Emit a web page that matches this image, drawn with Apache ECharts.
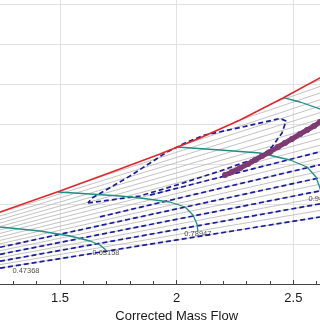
<!DOCTYPE html>
<html>
<head>
<meta charset="utf-8">
<script src="https://cdn.jsdelivr.net/npm/echarts@6/dist/echarts.min.js"></script>
<style>
  html, body { margin: 0; padding: 0; background: #fff; }
  #chart { width: 320px; height: 320px; }
</style>
</head>
<body>
<div id="chart"></div>
<script>
// surge line (red)
const surgeX = [1.157, 1.243, 1.500, 1.757, 1.929, 2.100, 2.272, 2.456, 2.614, 2.657]
const surgeY = [1.8125, 1.900, 2.163, 2.438, 2.625, 2.825, 3.050, 3.325, 3.575, 3.65]

// beta lines (thin grey), start point and end point
const betaStartX = [2.567, 2.4215, 2.246, 2.014, 1.620, 1.243, 1.243, 1.243, 1.243, 1.243, 1.243,
  1.243, 1.243, 1.243, 1.243, 1.243, 1.243, 1.243, 1.243, 1.243, 1.243, 1.243]
const betaStartY = [3.50, 3.2725, 3.025, 2.725, 2.29, 1.8925, 1.85, 1.805, 1.7625, 1.719, 1.676,
  1.6325, 1.589, 1.545, 1.5025, 1.459, 1.416, 1.371, 1.329, 1.285, 1.2425, 1.1975]
const betaEndX = 2.657
const betaEndY = [3.595, 3.5125, 3.43, 3.346, 3.264, 3.181, 3.099, 3.015, 2.9325, 2.85, 2.7675,
  2.685, 2.6025, 2.52, 2.4375, 2.355, 2.2725, 2.189, 2.106, 2.024, 1.941, 1.8575]

// efficiency contours (blue dashed), open ones
const effStartX = [1.8858, 1.6715, 1.243, 1.243, 1.243, 1.243]
const effStartY = [2.111, 1.84, 1.459, 1.371, 1.285, 1.1975]
const effEndX = 2.657
const effEndY = [2.685, 2.52, 2.355, 2.189, 2.024, 1.8575]

// efficiency island (closed)
const islandX = [1.620, 1.843, 2.014, 2.186, 2.357, 2.4086, 2.4515, 2.4686, 2.443, 2.272, 2.121, 2.036, 1.959, 1.800, 1.637, 1.620]
const islandY = [2.0125, 2.10, 2.25, 2.4125, 2.5875, 2.7125, 2.8875, 3.0375, 3.069, 2.956, 2.8625, 2.7625, 2.65, 2.35, 2.075, 2.0125]

// speed lines (teal)
const speedX = [
  [1.157, 1.243, 1.414, 1.543, 1.629, 1.671, 1.697],
  [1.4915, 1.629, 1.757, 1.843, 1.971, 2.036, 2.070, 2.087, 2.091],
  [2.001, 2.186, 2.357, 2.486, 2.559, 2.597, 2.614, 2.623],
  [2.456, 2.529, 2.614, 2.657],
]
const speedY = [
  [1.75, 1.7125, 1.6625, 1.60, 1.5375, 1.4875, 1.425],
  [2.15, 2.125, 2.10, 2.075, 2.025, 1.9625, 1.8625, 1.75, 1.6625],
  [2.7125, 2.675, 2.6375, 2.55, 2.4625, 2.3375, 2.20, 2.10],
  [3.331, 3.275, 3.1875, 3.1375],
]

// speed labels, placed at line ends
const speedLabels = ['0.47368', '0.63158', '0.78947', '0.94737']
const speedLabelX = [1.354, 1.697, 2.091, 2.623]
const speedLabelY = [1.20, 1.425, 1.6625, 2.10]

// operating line (purple)
const opX = [2.207, 2.237, 2.272, 2.306, 2.336, 2.366, 2.400, 2.434, 2.464, 2.494, 2.529, 2.559, 2.589, 2.614, 2.649]
const opY = [2.3625, 2.40, 2.45, 2.50, 2.55, 2.60, 2.65, 2.7125, 2.7625, 2.8125, 2.875, 2.925, 2.975, 3.025, 3.075]

const font = "'Liberation Sans', Arial, sans-serif"
const zip = (xs, ys) => xs.map((x, i) => [x, ys[i]])

const series = []

betaStartX.forEach((sx, i) => {
  series.push({
    type: 'line', silent: true, symbol: 'none', z: 1,
    data: [[sx, betaStartY[i]], [betaEndX, betaEndY[i]]],
    lineStyle: { color: '#b4b4b4', width: 0.8 },
  })
})

effStartX.forEach((sx, i) => {
  series.push({
    type: 'line', silent: true, symbol: 'none', z: 2,
    data: [[sx, effStartY[i]], [effEndX, effEndY[i]]],
    lineStyle: { color: '#1b1d9e', width: 1.7, type: [5, 3] },
  })
})

series.push({
  type: 'line', silent: true, symbol: 'none', z: 2,
  data: zip(islandX, islandY),
  lineStyle: { color: '#1b1d9e', width: 1.7, type: [5, 3] },
})

speedX.forEach((xs, i) => {
  series.push({
    type: 'line', silent: true, symbol: 'none', z: 3,
    data: zip(xs, speedY[i]),
    lineStyle: { color: '#1f8f86', width: 1.3 },
  })
})

series.push({
  type: 'scatter', silent: true, symbol: 'circle', symbolSize: 1, z: 6,
  data: speedLabelX.map((x, i) => ({ value: [x, speedLabelY[i]], name: speedLabels[i] })),
  itemStyle: { color: 'rgba(0,0,0,0)' },
  label: {
    show: true, formatter: '{b}', position: 'inside', offset: [0, 3],
    fontSize: 7.5, fontFamily: font, color: '#222',
  },
})

series.push({
  type: 'line', silent: true, symbol: 'none', z: 4,
  data: zip(surgeX, surgeY),
  lineStyle: { color: '#e1262b', width: 1.6 },
})

series.push({
  type: 'line', silent: true, symbol: 'circle', symbolSize: 6, z: 5,
  data: zip(opX, opY),
  lineStyle: { color: '#7e3a72', width: 5 },
  itemStyle: { color: '#7e3a72' },
})

const chart = echarts.init(document.getElementById('chart'))
chart.setOption({
  animation: false,
  backgroundColor: '#fff',
  grid: { left: -56.67, right: -90, top: -36, bottom: 36, outerBoundsMode: 'none', containLabel: false },
  xAxis: {
    type: 'value', min: 1, max: 3, interval: 0.5,
    name: 'Corrected Mass Flow', nameLocation: 'middle', nameGap: 21,
    nameTextStyle: { fontSize: 13, fontFamily: font, color: '#1a1a1a' },
    axisLine: { lineStyle: { color: '#444', width: 1 } },
    axisTick: { inside: true, length: 4, lineStyle: { color: '#444' } },
    minorTick: { show: true, splitNumber: 5, length: 3, lineStyle: { color: '#444' } },
    axisLabel: { fontSize: 13, fontFamily: font, color: '#1a1a1a', margin: 8 },
    splitLine: { show: true, lineStyle: { color: '#e2e2e2' } },
  },
  yAxis: {
    type: 'value', min: 1, max: 5, interval: 0.5,
    axisLine: { show: false }, axisTick: { show: false }, axisLabel: { show: false },
    splitLine: { show: true, lineStyle: { color: '#e2e2e2' } },
  },
  series: series,
})
</script>
</body>
</html>
